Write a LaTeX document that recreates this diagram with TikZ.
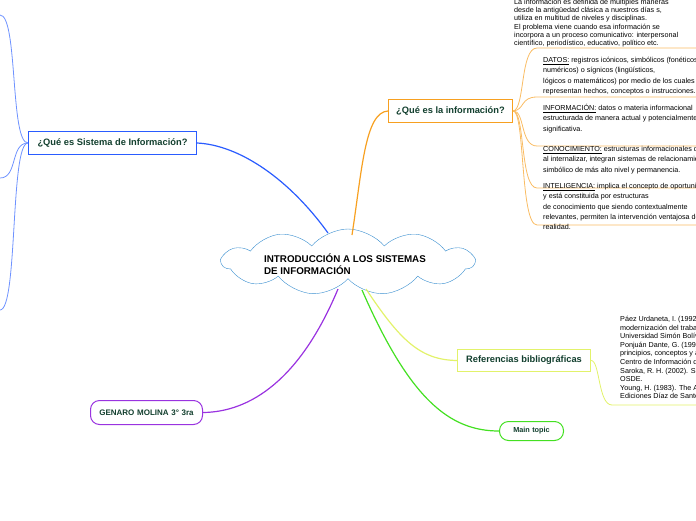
\documentclass[tikz,border=0pt]{standalone}
\usepackage{fontspec}
\setmainfont{Liberation Sans}
\usetikzlibrary{shapes.symbols}
\definecolor{txt}{HTML}{123F2E}
\definecolor{org}{HTML}{F7A020}
\definecolor{blu}{HTML}{2A5CFF}
\definecolor{lblu}{HTML}{6E92FF}
\definecolor{ylw}{HTML}{E2F26A}
\definecolor{grn}{HTML}{44E022}
\definecolor{pur}{HTML}{9A33E0}
\definecolor{cld}{HTML}{3A8FD0}
\tikzset{
 topic/.style={draw,line width=1pt,fill=white,text=txt,font=\bfseries\fontsize{9.3}{10}\selectfont,inner sep=2pt,anchor=north west},
 small/.style={font=\fontsize{7.2}{10.3}\selectfont,align=left,anchor=north west,inner sep=0pt,text=black},
 br/.style={line width=0.8pt}
}
\begin{document}
\begin{tikzpicture}[x=1pt,y=-1pt]
\useasboundingbox (0,0) rectangle (696,520);
\clip (0,0) rectangle (696,520);
% center
\node[cloud,cloud puffs=11,cloud puff arc=100,aspect=4.2,draw=cld,fill=white,minimum width=252,minimum height=66,inner sep=0pt] (c) at (348,262) {};
\node[font=\bfseries\fontsize{9.8}{12}\selectfont,align=left,text=black] (ct) at (345,264) {INTRODUCCIÓN A LOS SISTEMAS\\DE INFORMACIÓN};
% topics
\node[topic,draw=org,minimum width=124,minimum height=23] (qi) at (388,99) {¿Qué es la información?};
\node[topic,draw=blu,minimum width=168,minimum height=23] (qs) at (28,131) {¿Qué es Sistema de Información?};
\node[topic,draw=ylw,minimum width=133,minimum height=22] (ref) at (457,349) {Referencias bibliográficas};
\node[topic,draw=grn,rounded corners=9pt,minimum width=64,minimum height=19,font=\bfseries\fontsize{7.3}{9}\selectfont,align=center,text width=58] (mt) at (499,421) {Main topic};
\node[topic,draw=pur,rounded corners=9pt,minimum width=112,minimum height=24,font=\bfseries\fontsize{8}{9}\selectfont,align=center,text width=106] (gm) at (90,400) {GENARO MOLINA 3° 3ra};
% main connectors
\coordinate (cb) at (328,233); \coordinate (co) at (352,235);
\coordinate (cp) at (338,289); \coordinate (cy) at (366,289); \coordinate (cg) at (362,290);
\draw[blu,line width=1.2pt] (cb) .. controls (290,180) and (240,145) .. (qs.east);
\draw[org,line width=1.2pt] (co) .. controls (362,170) and (365,112) .. (qi.west);
\draw[pur,line width=1.2pt] (cp) .. controls (300,380) and (250,412) .. (gm.east);
\draw[grn,line width=1.2pt] (cg) .. controls (410,400) and (450,431) .. (mt.west);
\draw[ylw,line width=1.2pt] (cy) .. controls (400,340) and (420,360) .. (ref.west);
% orange subtopics
\coordinate (qo) at (qi.east);
\foreach \y in {48,97,146,188,225}{
 \draw[org!70,br] (qo) .. controls (525,110) and (520,\y) .. (537,\y) -- (696,\y);
}
\node[small,font=\fontsize{7.2}{8.2}\selectfont] (t0) at (514,-1) {La información es definida de múltiples maneras\\desde la antigüedad clásica a nuestros días s,\\utiliza en multitud de niveles y disciplinas.\\El problema viene cuando esa información se\\incorpora a un proceso comunicativo: interpersonal\\científico, periodístico, educativo, político etc.};
\node[small] (t1) at (543,57) {\underline{DATOS:} registros icónicos, simbólicos (fonéticos o\\numéricos) o sígnicos (lingüísticos,\\ lógicos o  matemáticos) por medio de los cuales se\\representan hechos, conceptos o instrucciones.};
\node[small] (t2) at (543,104) {\underline{INFORMACIÓN:} datos o materia informacional\\estructurada de manera actual y potencialmente\\significativa.};
\node[small] (t3) at (543,146) {\underline{CONOCIMIENTO:} estructuras informacionales que\\al internalizar, integran sistemas de relacionamiento\\simbólico de más alto nivel y  permanencia.};
\node[small] (t4) at (543,183) {\underline{INTELIGENCIA:} implica el concepto de oportunidad\\y está constituida por estructuras\\ de conocimiento que siendo contextualmente\\relevantes, permiten la intervención ventajosa de la\\realidad.};
% references
\draw[ylw,br] (ref.east) .. controls (600,360) and (598,405) .. (612,405) -- (696,405);
\node[small,font=\fontsize{7.2}{8.6}\selectfont] (tr) at (620,316) {Páez Urdaneta, I. (1992).\\modernización del trabajo.\\Universidad Simón Bolívar.\\Ponjuán Dante, G. (1998).\\principios, conceptos y aplicaciones.\\Centro de Información de\\Saroka, R. H. (2002). Sistemas\\OSDE.\\Young, H. (1983). The ALA\\Ediciones Díaz de Santos.};
% blue subtopics
\coordinate (qw) at (qs.west);
\foreach \y in {15,178,310}{
 \draw[lblu,br] (qw) .. controls (10,143) and (18,\y) .. (0,\y);
}
\end{tikzpicture}
\end{document}
